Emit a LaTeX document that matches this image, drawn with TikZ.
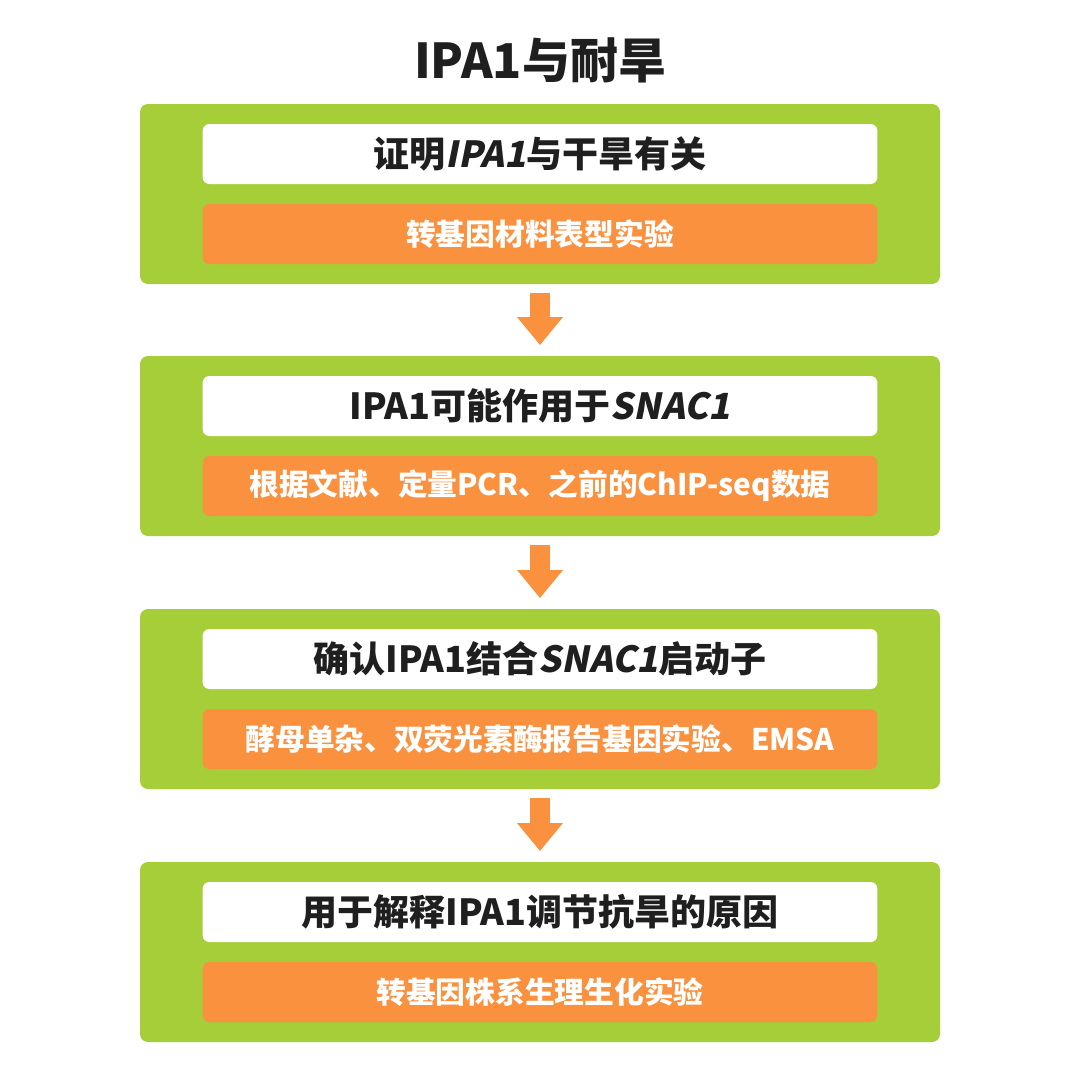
\documentclass[tikz,border=0pt]{standalone}
\usepackage{fontspec}
\setmainfont{Noto Sans CJK SC}
\newfontfamily\slantfont{Noto Sans CJK SC}[FakeSlant=0.2]
\newcommand{\gene}[1]{{\slantfont #1}}
\usetikzlibrary{positioning,arrows.meta}
\definecolor{stagegreen}{HTML}{A6CE39}
\definecolor{methodorange}{HTML}{F9913F}
\tikzset{
  stage/.style={fill=stagegreen, rounded corners=6pt, minimum width=600pt, minimum height=135pt, inner sep=0pt},
  claim/.style={fill=white, rounded corners=5pt, minimum width=506pt, minimum height=45pt, inner sep=0pt,
    text=black!88, font=\bfseries\fontsize{27}{30}\selectfont},
  method/.style={fill=methodorange, rounded corners=5pt, minimum width=506pt, minimum height=45pt, inner sep=0pt,
    text=white, font=\bfseries\fontsize{22.3}{24}\selectfont},
  flow/.style={methodorange, line width=15pt, -{Triangle[width=33pt,length=21pt]}, shorten <=6.75pt, shorten >=8pt}
}
\begin{document}
\begin{tikzpicture}[x=0.75pt,y=-0.75pt]
  \useasboundingbox[fill=white] (0,0) rectangle (1080,1076);
  \node[font=\bfseries\fontsize{36}{40}\selectfont, text=black!88] (title) at (540,60) {IPA1与耐旱};

  % four stages
  \node[stage] (s1) at (540,194) {};
  \node[stage] (s2) at (540,446) {};
  \node[stage] (s3) at (540,699) {};
  \node[stage] (s4) at (540,952) {};

  \node[claim] (c1) at ([yshift=30pt]s1.center) {证明\gene{IPA1}与干旱有关};
  \node[method] (m1) at ([yshift=-30pt]s1.center) {转基因材料表型实验};
  \node[claim] (c2) at ([yshift=30pt]s2.center) {IPA1可能作用于\gene{SNAC1}};
  \node[method] (m2) at ([yshift=-30pt]s2.center) {根据文献、定量PCR、之前的ChIP-seq数据};
  \node[claim] (c3) at ([yshift=30pt]s3.center) {确认IPA1结合\gene{SNAC1}启动子};
  \node[method] (m3) at ([yshift=-30pt]s3.center) {酵母单杂、双荧光素酶报告基因实验、EMSA};
  \node[claim] (c4) at ([yshift=30pt]s4.center) {用于解释IPA1调节抗旱的原因};
  \node[method] (m4) at ([yshift=-30pt]s4.center) {转基因株系生理生化实验};

  % arrows between stages
  \draw[flow] (s1) -- (s2);
  \draw[flow] (s2) -- (s3);
  \draw[flow] (s3) -- (s4);
\end{tikzpicture}
\end{document}
